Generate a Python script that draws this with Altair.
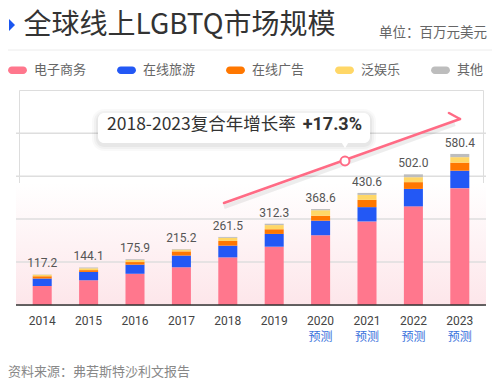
import altair as alt
import pandas as pd

years = ["2014", "2015", "2016", "2017", "2018", "2019", "2020", "2021", "2022", "2023"]
totals = [117.2, 144.1, 175.9, 215.2, 261.5, 312.3, 368.6, 430.6, 502.0, 580.4]
forecast_years = ["2020", "2021", "2022", "2023"]
categories = ["电子商务", "在线旅游", "在线广告", "泛娱乐", "其他"]
colors = ["#ff778d", "#2358f5", "#ff7700", "#ffd767", "#bdbdbd"]
ecommerce = [73, 95, 120, 145, 183, 224, 268, 321, 379, 449]
travel = [28.5, 32, 35, 45, 45, 49, 56, 55, 67, 67]
ads = [8.5, 7, 10, 16, 18, 18, 19, 28, 26, 31]
entertainment = [6, 7, 8, 7, 12, 16, 21, 19, 19, 21]
other = [1.2, 3.1, 2.9, 2.2, 3.5, 5.3, 4.6, 7.6, 11.0, 12.4]
grid_values = [165, 330, 495, 660]

title_text = "全球线上LGBTQ市场规模"
unit_text = "单位：百万元美元"
cagr_text = "2018-2023复合年增长率 "
cagr_value = "+17.3%"
forecast_text = "预测"
source_text = "资料来源：弗若斯特沙利文报告"

CJK = "Noto Sans CJK SC"
NUM = "Roboto"
YDOM = [0, 826]
yscale = alt.Scale(domain=YDOM, nice=False, zero=True)

series = [ecommerce, travel, ads, entertainment, other]
rows = []
for k, (cat, vals) in enumerate(zip(categories, series)):
    for y, v in zip(years, vals):
        rows.append({"year": y, "cat": cat, "k": k, "v": v})
bars_df = pd.DataFrame(rows)
tot_df = pd.DataFrame({"year": years, "total": totals})
fc_df = pd.DataFrame({"year": forecast_years, "t": [forecast_text] * len(forecast_years)})
grid_df = pd.DataFrame({"g": grid_values})
one = pd.DataFrame({"a": [0]})

xenc = alt.X("year:N", sort=years,
             scale=alt.Scale(type="band", paddingInner=0.59, paddingOuter=0.295),
             axis=alt.Axis(title=None, domain=False, ticks=False, grid=False,
                           labelAngle=0, labelFontSize=12, labelColor="#444",
                           labelFont=NUM, labelPadding=10))

pill = "M-0.6,-0.39 L0.6,-0.39 A0.39,0.39 0 0 1 0.6,0.39 L-0.6,0.39 A0.39,0.39 0 0 1 -0.6,-0.39 Z"
tri = "M-0.5,-1 L0.5,0 L-0.5,1 Z"

bg = alt.Chart(one).mark_rect(
    fill=alt.Gradient(gradient="linear",
                      stops=[alt.GradientStop(color="#ffffff", offset=0),
                             alt.GradientStop(color="#fde6ea", offset=1)],
                      x1=0, x2=0, y1=0, y2=1)
).encode(x=alt.value(-3), x2=alt.value(467), y=alt.value(93), y2=alt.value(215))

grid = alt.Chart(grid_df).mark_rule(color="#dedede", strokeWidth=1.5).encode(
    y=alt.Y("g:Q", scale=yscale, axis=None),
    x=alt.value(-3), x2=alt.value(467))

bars = alt.Chart(bars_df).mark_bar().encode(
    x=xenc,
    y=alt.Y("v:Q", stack="zero", scale=yscale, axis=None),
    color=alt.Color("cat:N", scale=alt.Scale(domain=categories, range=colors),
                    legend=alt.Legend(orient="none", legendX=-11, legendY=-29.5,
                                      direction="horizontal", title=None,
                                      symbolType=pill, symbolSize=361, symbolStrokeWidth=0,
                                      symbolOpacity=1, labelFontSize=13, labelColor="#666",
                                      labelFont=CJK, labelOffset=7, columnPadding=30,
                                      padding=0)),
    order=alt.Order("k:Q", sort="ascending"))

labels = alt.Chart(tot_df).mark_text(dy=-7, baseline="alphabetic", fontSize=12,
                                      color="#555", font=NUM).encode(
    x=alt.X("year:N", sort=years),
    y=alt.Y("total:Q", scale=yscale, axis=None),
    text=alt.Text("total:Q", format=".1f"))

fc = alt.Chart(fc_df).mark_text(baseline="middle", fontSize=12, color="#3a72dc", font=CJK).encode(
    x=alt.X("year:N", sort=years), y=alt.value(247), text="t:N")

baseline = alt.Chart(one).mark_rule(color="#333", strokeWidth=1.5).encode(
    y=alt.value(215), x=alt.value(-3), x2=alt.value(467))

# header
marker = alt.Chart(one).mark_point(shape=tri, filled=True, size=144, color="#1a56f0", opacity=1).encode(
    x=alt.value(-7), y=alt.value(-65))
title = alt.Chart(one).mark_text(text=title_text, align="left", baseline="middle", fontSize=28,
                                 fontWeight="normal", color="#333", font=CJK).encode(
    x=alt.value(4.5), y=alt.value(-64))
unit = alt.Chart(one).mark_text(text=unit_text, align="right", baseline="middle", fontSize=13.5,
                                color="#666", font=CJK).encode(
    x=alt.value(468), y=alt.value(-57))
sep = alt.Chart(one).mark_rule(color="#ececec", strokeWidth=1).encode(
    y=alt.value(-40), x=alt.value(-11), x2=alt.value(474))

# annotation
trend_shadow = alt.Chart(one).mark_rule(color="#000", opacity=0.07, strokeWidth=4).encode(
    x=alt.value(205), y=alt.value(117), x2=alt.value(436), y2=alt.value(34))
trend = alt.Chart(one).mark_rule(color="#ff6b85", strokeWidth=2.5, strokeCap="round").encode(
    x=alt.value(205), y=alt.value(113), x2=alt.value(441), y2=alt.value(29))
barb = alt.Chart(one).mark_rule(color="#ff6b85", strokeWidth=2.5, strokeCap="round").encode(
    x=alt.value(441), y=alt.value(29), x2=alt.value(430), y2=alt.value(23))
circle = alt.Chart(one).mark_point(shape="circle", size=80, filled=True, fill="white",
                                   stroke="#ff6b85", strokeWidth=2, opacity=1).encode(
    x=alt.value(326), y=alt.value(71))

shadows = []
for d, op in [(6, 0.025), (4, 0.03), (2, 0.04)]:
    shadows.append(alt.Chart(one).mark_rect(color="#000", opacity=op, cornerRadius=6 + d).encode(
        x=alt.value(79 - d), x2=alt.value(351 + d), y=alt.value(23 - d + 2), y2=alt.value(53 + d + 2)))
box = alt.Chart(one).mark_rect(color="white", cornerRadius=6).encode(
    x=alt.value(79), x2=alt.value(351), y=alt.value(23), y2=alt.value(53))
pointer = alt.Chart(one).mark_point(shape="triangle-down", size=60, filled=True, color="white",
                                    opacity=1).encode(x=alt.value(326), y=alt.value(55))
ann1 = alt.Chart(one).mark_text(text=cagr_text, align="left", baseline="middle", fontSize=17.5,
                                color="#333", font=CJK).encode(x=alt.value(88), y=alt.value(35))
ann2 = alt.Chart(one).mark_text(text=cagr_value, align="right", baseline="middle", fontSize=18,
                                fontWeight="bold", color="#333", font=NUM).encode(
    x=alt.value(343), y=alt.value(35))

source = alt.Chart(one).mark_text(text=source_text, align="left", baseline="middle", fontSize=13,
                                  color="#888", font=CJK).encode(x=alt.value(-11), y=alt.value(282))

chart = alt.layer(
    bg, grid, bars, labels, fc, baseline, marker, title, unit, sep,
    trend_shadow, trend, barb, circle, *shadows, box, pointer, ann1, ann2, source
).properties(
    width=464, height=215, autosize="none",
    padding={"left": 11, "top": 82, "right": 9, "bottom": 76}
).configure_view(stroke=None).configure(background="white")

chart.save("out.html", embed_options={"renderer": "svg", "actions": False})
